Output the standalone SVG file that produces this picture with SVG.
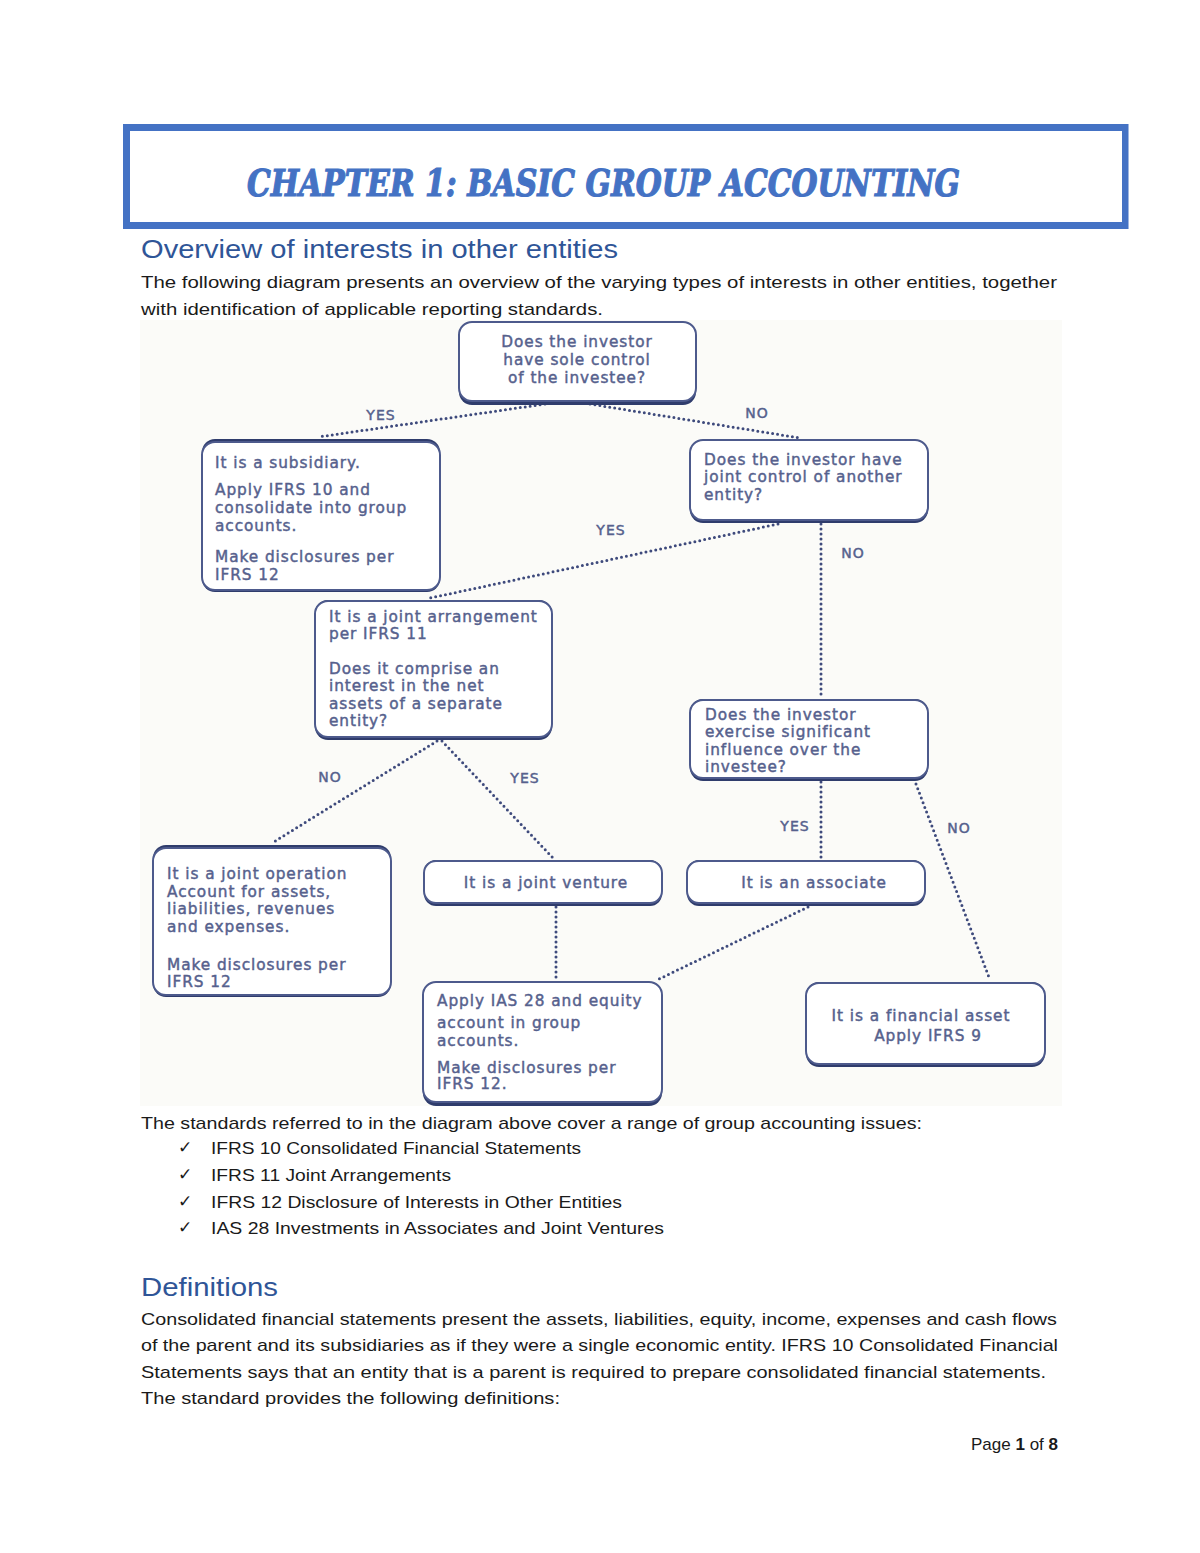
<svg xmlns="http://www.w3.org/2000/svg" width="1200" height="1553" viewBox="0 0 1200 1553">
<style>
.body{font-family:"Liberation Sans",Arial,sans-serif;font-size:17px;fill:#1a1a1a}
.h{font-family:"Liberation Sans",Arial,sans-serif;font-size:26px;fill:#2f5597}
.bx{fill:#ffffff;stroke:#4d5a8c;stroke-width:2}
.sh{fill:#2f3c6c;stroke:none}
.nt{font-family:"DejaVu Sans",sans-serif;font-size:15.3px;letter-spacing:0.95px;fill:#56618d;stroke:#56618d;stroke-width:0.45}
.lb{font-family:"DejaVu Sans",sans-serif;font-size:14px;letter-spacing:1px;fill:#56618d;stroke:#56618d;stroke-width:0.45}
.cn{fill:none;stroke:#3e4a7c;stroke-width:3;stroke-linecap:round;stroke-dasharray:0 5}
.ck{font-family:"DejaVu Sans",sans-serif;font-size:17px;fill:#1a1a1a}
</style>
<rect width="1200" height="1553" fill="#ffffff"/>
<g id="title">
<rect x="126.5" y="127.5" width="999" height="98" fill="#ffffff" stroke="#4472c4" stroke-width="7"/>
<line x1="1128.5" y1="124" x2="1128.5" y2="229" stroke="#9fb6e0" stroke-width="1"/>
<text x="247" y="196" textLength="713" lengthAdjust="spacingAndGlyphs" font-family="'DejaVu Serif',serif" font-weight="bold" font-style="italic" font-size="38" fill="#4472c4" stroke="#4472c4" stroke-width="1.2">CHAPTER 1: BASIC GROUP ACCOUNTING</text>
</g>
<text class="h" x="141" y="258" textLength="477" lengthAdjust="spacingAndGlyphs">Overview of interests in other entities</text>
<text class="body" x="141" y="288" textLength="916" lengthAdjust="spacingAndGlyphs">The following diagram presents an overview of the varying types of interests in other entities, together</text>
<text class="body" x="141" y="315" textLength="462" lengthAdjust="spacingAndGlyphs">with identification of applicable reporting standards.</text>
<rect x="140" y="320" width="922" height="786" fill="#fbfbf8"/>
<g id="connectors">
<line class="cn" x1="545" y1="404" x2="318" y2="437"/>
<line class="cn" x1="590" y1="404" x2="800" y2="438"/>
<line class="cn" x1="778" y1="524" x2="430" y2="598"/>
<line class="cn" x1="821" y1="524" x2="821" y2="697"/>
<line class="cn" x1="437" y1="741" x2="272" y2="843"/>
<line class="cn" x1="442" y1="741" x2="553" y2="858"/>
<line class="cn" x1="556" y1="907" x2="556" y2="980"/>
<line class="cn" x1="808" y1="907" x2="657" y2="980"/>
<line class="cn" x1="821" y1="782" x2="821" y2="858"/>
<line class="cn" x1="916" y1="784" x2="990" y2="980"/>
<text class="lb" x="381" y="420" text-anchor="middle">YES</text>
<text class="lb" x="757" y="418" text-anchor="middle">NO</text>
<text class="lb" x="611" y="535" text-anchor="middle">YES</text>
<text class="lb" x="853" y="558" text-anchor="middle">NO</text>
<text class="lb" x="330" y="782" text-anchor="middle">NO</text>
<text class="lb" x="525" y="783" text-anchor="middle">YES</text>
<text class="lb" x="795" y="831" text-anchor="middle">YES</text>
<text class="lb" x="959" y="833" text-anchor="middle">NO</text>
</g>
<g id="n1">
<rect class="sh" x="459" y="325" width="237" height="80" rx="13"/>
<rect class="bx" x="459" y="322" width="237" height="79" rx="13"/>
<text class="nt" x="577" y="347" text-anchor="middle">Does the investor</text>
<text class="nt" x="577" y="365" text-anchor="middle">have sole control</text>
<text class="nt" x="577" y="383" text-anchor="middle">of the investee?</text>
</g>
<g id="n2">
<rect class="sh" x="202" y="439" width="238" height="153" rx="13"/>
<rect class="bx" x="202" y="442" width="238" height="148" rx="13"/>
<text class="nt" x="215" y="468">It is a subsidiary.</text>
<text class="nt" x="215" y="495">Apply IFRS 10 and</text>
<text class="nt" x="215" y="513">consolidate into group</text>
<text class="nt" x="215" y="531">accounts.</text>
<text class="nt" x="215" y="562">Make disclosures per</text>
<text class="nt" x="215" y="580">IFRS 12</text>
</g>
<g id="n3">
<rect class="sh" x="690" y="440" width="238" height="83" rx="13"/>
<rect class="bx" x="690" y="440" width="238" height="80" rx="13"/>
<text class="nt" x="704" y="465">Does the investor have</text>
<text class="nt" x="704" y="482">joint control of another</text>
<text class="nt" x="704" y="500">entity?</text>
</g>
<g id="n4">
<rect class="sh" x="315" y="600" width="237" height="140" rx="13"/>
<rect class="bx" x="315" y="601" width="237" height="136" rx="13"/>
<text class="nt" x="329" y="622">It is a joint arrangement</text>
<text class="nt" x="329" y="639">per IFRS 11</text>
<text class="nt" x="329" y="674">Does it comprise an</text>
<text class="nt" x="329" y="691">interest in the net</text>
<text class="nt" x="329" y="709">assets of a separate</text>
<text class="nt" x="329" y="726">entity?</text>
</g>
<g id="n5">
<rect class="sh" x="690" y="699" width="238" height="82" rx="13"/>
<rect class="bx" x="690" y="700" width="238" height="78" rx="13"/>
<text class="nt" x="705" y="720">Does the investor</text>
<text class="nt" x="705" y="737">exercise significant</text>
<text class="nt" x="705" y="755">influence over the</text>
<text class="nt" x="705" y="772">investee?</text>
</g>
<g id="n6">
<rect class="sh" x="153" y="845" width="238" height="152" rx="13"/>
<rect class="bx" x="153" y="848" width="238" height="147" rx="13"/>
<text class="nt" x="167" y="879">It is a joint operation</text>
<text class="nt" x="167" y="897">Account for assets,</text>
<text class="nt" x="167" y="914">liabilities, revenues</text>
<text class="nt" x="167" y="932">and expenses.</text>
<text class="nt" x="167" y="970">Make disclosures per</text>
<text class="nt" x="167" y="987">IFRS 12</text>
</g>
<g id="n7">
<rect class="sh" x="424" y="860" width="238" height="46" rx="12"/>
<rect class="bx" x="424" y="861" width="238" height="42" rx="12"/>
<text class="nt" x="546" y="888" text-anchor="middle">It is a joint venture</text>
</g>
<g id="n8">
<rect class="sh" x="687" y="860" width="238" height="46" rx="12"/>
<rect class="bx" x="687" y="861" width="238" height="42" rx="12"/>
<text class="nt" x="814" y="888" text-anchor="middle">It is an associate</text>
</g>
<g id="n9">
<rect class="sh" x="423" y="982" width="239" height="124" rx="13"/>
<rect class="bx" x="423" y="982" width="239" height="120" rx="13"/>
<text class="nt" x="437" y="1006">Apply IAS 28 and equity</text>
<text class="nt" x="437" y="1028">account in group</text>
<text class="nt" x="437" y="1046">accounts.</text>
<text class="nt" x="437" y="1073">Make disclosures per</text>
<text class="nt" x="437" y="1089">IFRS 12.</text>
</g>
<g id="n10">
<rect class="sh" x="806" y="982" width="239" height="85" rx="13"/>
<rect class="bx" x="806" y="983" width="239" height="81" rx="13"/>
<text class="nt" x="921" y="1021" text-anchor="middle" font-size="18.5" letter-spacing="0.9">It is a financial asset</text>
<text class="nt" x="928" y="1041" text-anchor="middle" font-size="14" letter-spacing="1">Apply IFRS 9</text>
</g>
<text class="body" x="141" y="1129" textLength="781" lengthAdjust="spacingAndGlyphs">The standards referred to in the diagram above cover a range of group accounting issues:</text>
<text class="ck" x="178" y="1153">✓</text>
<text class="ck" x="178" y="1180">✓</text>
<text class="ck" x="178" y="1207">✓</text>
<text class="ck" x="178" y="1233">✓</text>
<text class="body" x="211" y="1154" textLength="370" lengthAdjust="spacingAndGlyphs">IFRS 10 Consolidated Financial Statements</text>
<text class="body" x="211" y="1181" textLength="240" lengthAdjust="spacingAndGlyphs">IFRS 11 Joint Arrangements</text>
<text class="body" x="211" y="1208" textLength="411" lengthAdjust="spacingAndGlyphs">IFRS 12 Disclosure of Interests in Other Entities</text>
<text class="body" x="211" y="1234" textLength="453" lengthAdjust="spacingAndGlyphs">IAS 28 Investments in Associates and Joint Ventures</text>
<text class="h" x="141" y="1296" textLength="137" lengthAdjust="spacingAndGlyphs">Definitions</text>
<text class="body" x="141" y="1325" textLength="916" lengthAdjust="spacingAndGlyphs">Consolidated financial statements present the assets, liabilities, equity, income, expenses and cash flows</text>
<text class="body" x="141" y="1351" textLength="917" lengthAdjust="spacingAndGlyphs">of the parent and its subsidiaries as if they were a single economic entity. IFRS 10 Consolidated Financial</text>
<text class="body" x="141" y="1378" textLength="905" lengthAdjust="spacingAndGlyphs">Statements says that an entity that is a parent is required to prepare consolidated financial statements.</text>
<text class="body" x="141" y="1404" textLength="419" lengthAdjust="spacingAndGlyphs">The standard provides the following definitions:</text>
<text class="body" x="1058" y="1450" text-anchor="end">Page <tspan font-weight="bold">1</tspan> of <tspan font-weight="bold">8</tspan></text>
</svg>
